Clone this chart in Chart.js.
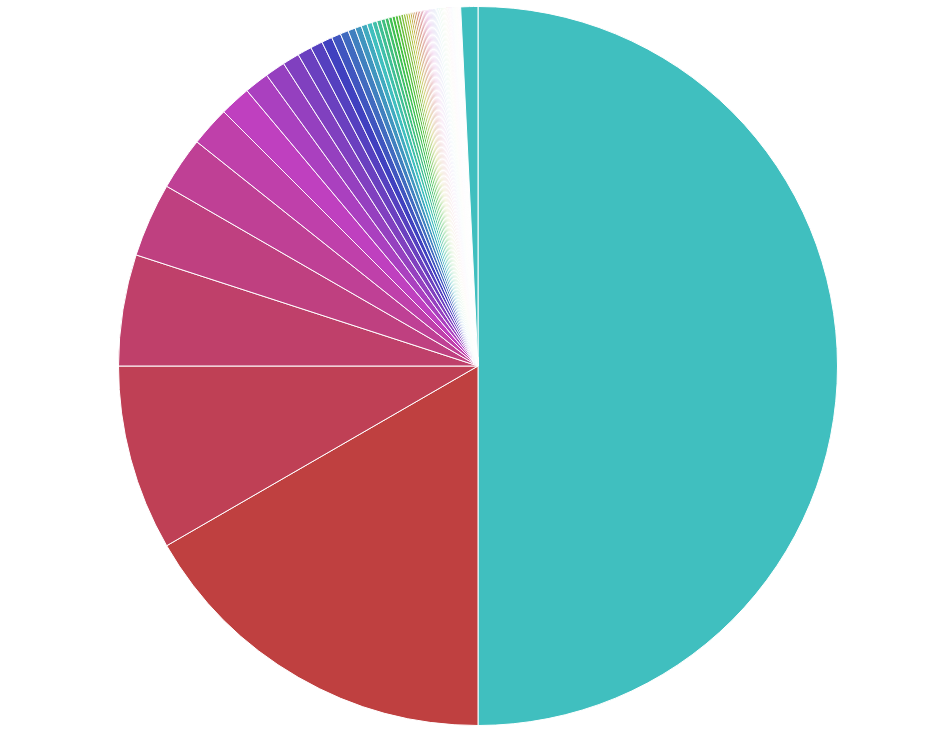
<!DOCTYPE html>
<html>
<head>
<meta charset="utf-8">
<script src="https://cdn.jsdelivr.net/npm/chart.js@4.4.1/dist/chart.umd.min.js"></script>
<style>
  html, body { margin: 0; padding: 0; background: #ffffff; }
  #wrap { position: absolute; left: 118px; top: 6px; width: 720px; height: 720px; }
</style>
</head>
<body>
<div id="wrap"><canvas id="c"></canvas></div>
<script>
// Slice shares in percent (largest first, last slice is the remainder)
const values = [
  50, 16.667, 8.333, 5, 3.333, 2.381, 1.786, 1.389, 1.111, 0.9091,
  0.7576, 0.6410, 0.5495, 0.4762, 0.4167, 0.3676, 0.3268, 0.2924, 0.2632, 0.2381,
  0.2165, 0.1976, 0.1812, 0.1667, 0.1538, 0.1425, 0.1323, 0.1232, 0.1149, 0.1075,
  0.1008, 0.0947, 0.0891, 0.0840, 0.0794, 0.0751, 0.0711, 0.0675, 0.0641, 0.0610,
  0.0581, 0.0554, 0.0529, 0.0505, 0.0483, 0.0463, 0.0443, 0.0425, 0.0408, 0.0392,
  0.0377, 0.0363, 0.0349, 0.0337, 0.0325, 0.0313, 0.0302, 0.0292, 0.0282, 0.0273,
  0.0264, 0.0256, 0.0248, 0.0240, 0.0233, 0.0226, 0.0219, 0.0213, 0.0207, 0.0201,
  0.0196, 0.0190, 0.0185, 0.0180, 0.0175, 0.0171, 0.0167, 0.0162, 0.0158, 0.0154,
  0.0151, 0.0147, 0.0143, 0.0140, 0.0137, 0.0134, 0.0131, 0.0128, 0.0125, 0.0122,
  0.0119, 0.0117, 0.0114, 0.0112, 0.0110, 0.0107, 0.0105, 0.0103, 0.0101, 0.0099,
  0.0097, 0.0095, 0.0093, 0.0092, 0.0090, 0.0088, 0.0087, 0.0085, 0.0083, 0.0082,
  0.0080, 0.0079, 0.0078, 0.0076, 0.0075, 0.0074, 0.0072, 0.0071, 0.0070, 0.0069,
  0.0068, 0.0067, 0.0066, 0.0065, 0.0063, 0.0062, 0.0062, 0.0061, 0.0060, 0.7692
];
const categories = values.map((v, i) => 'Slice ' + (i + 1));

// Styling: teal for first and last slice, a hue wheel stepping downward for the rest
const tealColor = 'hsl(180, 50%, 50%)';
const colors = values.map((v, i) => {
  if (i === 0 || i === values.length - 1) return tealColor;
  const hue = ((360 - 10 * (i - 1)) % 360 + 360) % 360;
  return 'hsl(' + hue + ', 50%, 50%)';
});

new Chart(document.getElementById('c'), {
  type: 'pie',
  data: {
    labels: categories,
    datasets: [{
      data: values,
      backgroundColor: colors,
      borderColor: '#ffffff',
      borderWidth: 1,
      hoverOffset: 0
    }]
  },
  options: {
    responsive: true,
    maintainAspectRatio: false,
    animation: false,
    layout: { padding: 0 },
    plugins: {
      legend: { display: false },
      tooltip: { enabled: false }
    }
  }
});
</script>
</body>
</html>
